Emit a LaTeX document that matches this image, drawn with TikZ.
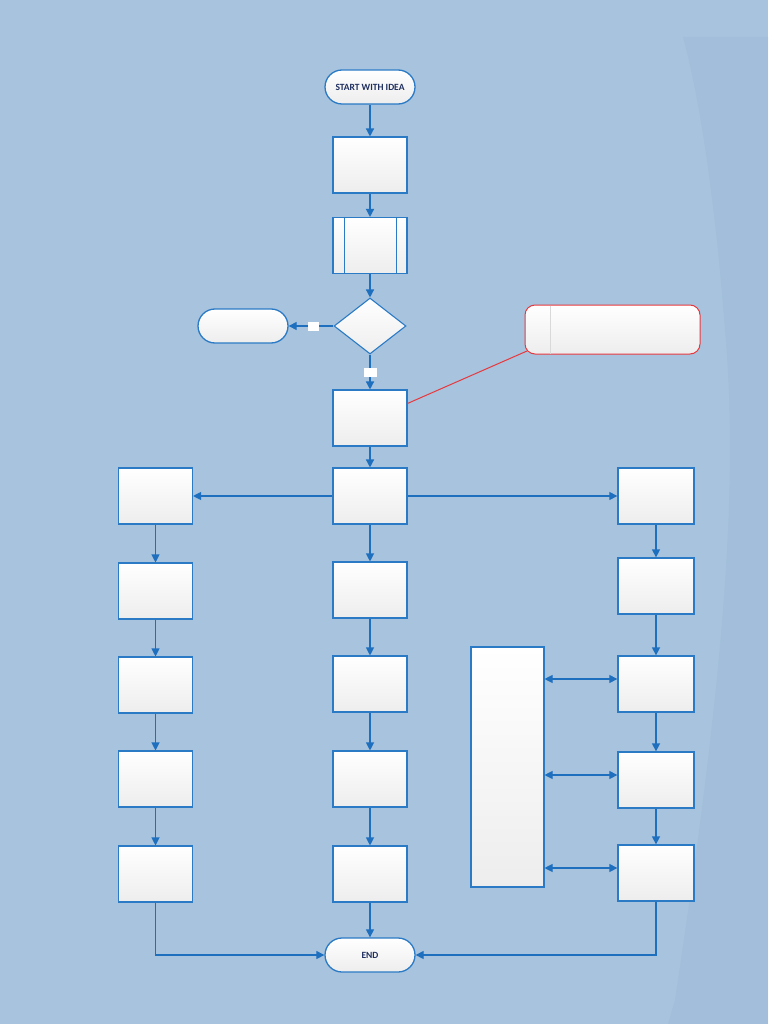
\documentclass[tikz,border=0pt]{standalone}
\usepackage{fontspec}
\setmainfont{Carlito}
\usetikzlibrary{shapes.geometric,arrows.meta,calc}
\definecolor{bg}{HTML}{A7C3DD}
\definecolor{bgdark}{HTML}{9CBAD7}
\definecolor{edge}{HTML}{2A7AC6}
\definecolor{arr}{HTML}{1F6FBF}
\definecolor{navy}{HTML}{1F2F5F}
\definecolor{callred}{HTML}{E8383D}
\tikzset{
  boxfill/.style={top color=white,bottom color=black!7},
  proc/.style={draw=edge,line width=1.1pt,boxfill,minimum width=74pt,minimum height=56pt,inner sep=0pt},
  term/.style={draw=edge,line width=1.3pt,boxfill,rounded corners=17pt,minimum width=90pt,minimum height=34pt,inner sep=0pt,font=\fontsize{9.5}{10}\selectfont\bfseries,text=navy},
  dec/.style={draw=edge,line width=1.1pt,boxfill,diamond,minimum width=72pt,minimum height=56pt,inner sep=0pt},
  flow/.style={draw=arr,line width=1.4pt,-{Triangle[length=8pt,width=8pt]}},
  thinflow/.style={draw=arr,line width=1.1pt,-{Triangle[length=8pt,width=8pt]}},
  both/.style={draw=arr,line width=1.1pt,{Triangle[length=8pt,width=8pt]}-{Triangle[length=8pt,width=8pt]}},
  tag/.style={fill=white,inner sep=0pt,minimum width=11pt,minimum height=9pt},
}
\begin{document}
\begin{tikzpicture}[x=1pt,y=-1pt]
\useasboundingbox (0,0) rectangle (768,1024);
\fill[bg] (0,0) rectangle (768,1024);
\fill[bgdark,opacity=0.45] (683,37) -- (768,37) -- (768,1024) -- (668,1024) -- (675,1000) .. controls (720,700) and (740,500) .. (725,330) .. controls (715,200) and (700,100) .. cycle;
% main column
\node[term] (start) at (370,87) {START WITH IDEA};
\node[proc] (b1) at (370,165) {};
\node[proc] (pp) at (370,245.5) {};
\draw[edge,line width=1pt] ($(pp.north west)+(12,0)$) -- ($(pp.south west)+(12,0)$);
\draw[edge,line width=1pt] ($(pp.north east)+(-11,0)$) -- ($(pp.south east)+(-11,0)$);
\node[dec] (d) at (370,326) {};
\node[term] (alt) at (243,326) {};
\node[proc] (b2) at (370,418) {};
\node[draw=callred,line width=1pt,boxfill,rounded corners=10pt,minimum width=175pt,minimum height=49pt,inner sep=0pt] (call) at (612.5,329.5) {};
\draw[black!15,line width=0.6pt] ($(call.north west)+(26,1)$) -- ($(call.south west)+(26,-1)$);
\coordinate (callpt) at (527,351);
\draw[callred,line width=1pt] ($(b2.north east)+(0,14)$) -- (callpt);
% row
\node[proc] (c1) at (370,496) {};
\node[proc] (l1) at (155.5,496) {};
% left column
\node[proc] (l2) at (155.5,591) {};
\node[proc] (l3) at (155.5,685) {};
\node[proc] (l4) at (155.5,779) {};
\node[proc] (l5) at (155.5,874) {};
% center column
\node[proc] (c2) at (370,590) {};
\node[proc] (c3) at (370,684) {};
\node[proc] (c4) at (370,779) {};
\node[proc] (c5) at (370,874) {};
% right column
\node[proc,minimum width=76pt,line width=1.3pt] (r1) at (656,496) {};
\node[proc,minimum width=76pt,line width=1.3pt] (r2) at (656,586) {};
\node[proc,minimum width=76pt,line width=1.3pt] (r3) at (656,684) {};
\node[proc,minimum width=76pt,line width=1.3pt] (r4) at (656,780) {};
\node[proc,minimum width=76pt,line width=1.3pt] (r5) at (656,873) {};
\node[proc,minimum width=73pt,minimum height=240pt] (tall) at (507.5,767) {};
\node[term] (end) at (370,955) {END};
% connectors main
\draw[flow] (start) -- (b1);
\draw[flow] (b1) -- (pp);
\draw[flow] (pp) -- (d);
\draw[flow,line width=1.1pt] (d) -- (alt) node[tag,pos=0.45] {};
\draw[flow] (d) -- (b2) node[tag,pos=0.5,minimum width=13pt] {};
\draw[flow] (b2) -- (c1);
% row branches
\draw[thinflow] (c1) -- (l1);
\draw[thinflow] (c1) -- (r1);
\coordinate (stubL) at (311,496);
\coordinate (stubR) at (430,496);
\draw[arr,line width=2pt] (stubL) -- (c1.west);
\draw[arr,line width=2pt] (c1.east) -- (stubR);
% columns
\draw[thinflow] (l1) -- (l2);
\draw[thinflow] (l2) -- (l3);
\draw[thinflow] (l3) -- (l4);
\draw[thinflow] (l4) -- (l5);
\draw[thinflow] (c1) -- (c2);
\draw[thinflow] (c2) -- (c3);
\draw[thinflow] (c3) -- (c4);
\draw[thinflow] (c4) -- (c5);
\draw[thinflow] (c5) -- (end);
\draw[flow] (r1) -- (r2);
\draw[flow] (r2) -- (r3);
\draw[flow] (r3) -- (r4);
\draw[flow] (r4) -- (r5);
% double arrows
\draw[both] ($(tall.east |- r3)+(0,-5)$) -- ($(r3.west)+(0,-5)$);
\draw[both] ($(tall.east |- r4)+(0,-5)$) -- ($(r4.west)+(0,-5)$);
\draw[both] ($(tall.east |- r5)+(0,-5)$) -- ($(r5.west)+(0,-5)$);
% to end
\draw[thinflow] (l5.south) |- (end.west);
\draw[thinflow,line width=1.3pt] (r5.south) |- (end.east);
\end{tikzpicture}
\end{document}
